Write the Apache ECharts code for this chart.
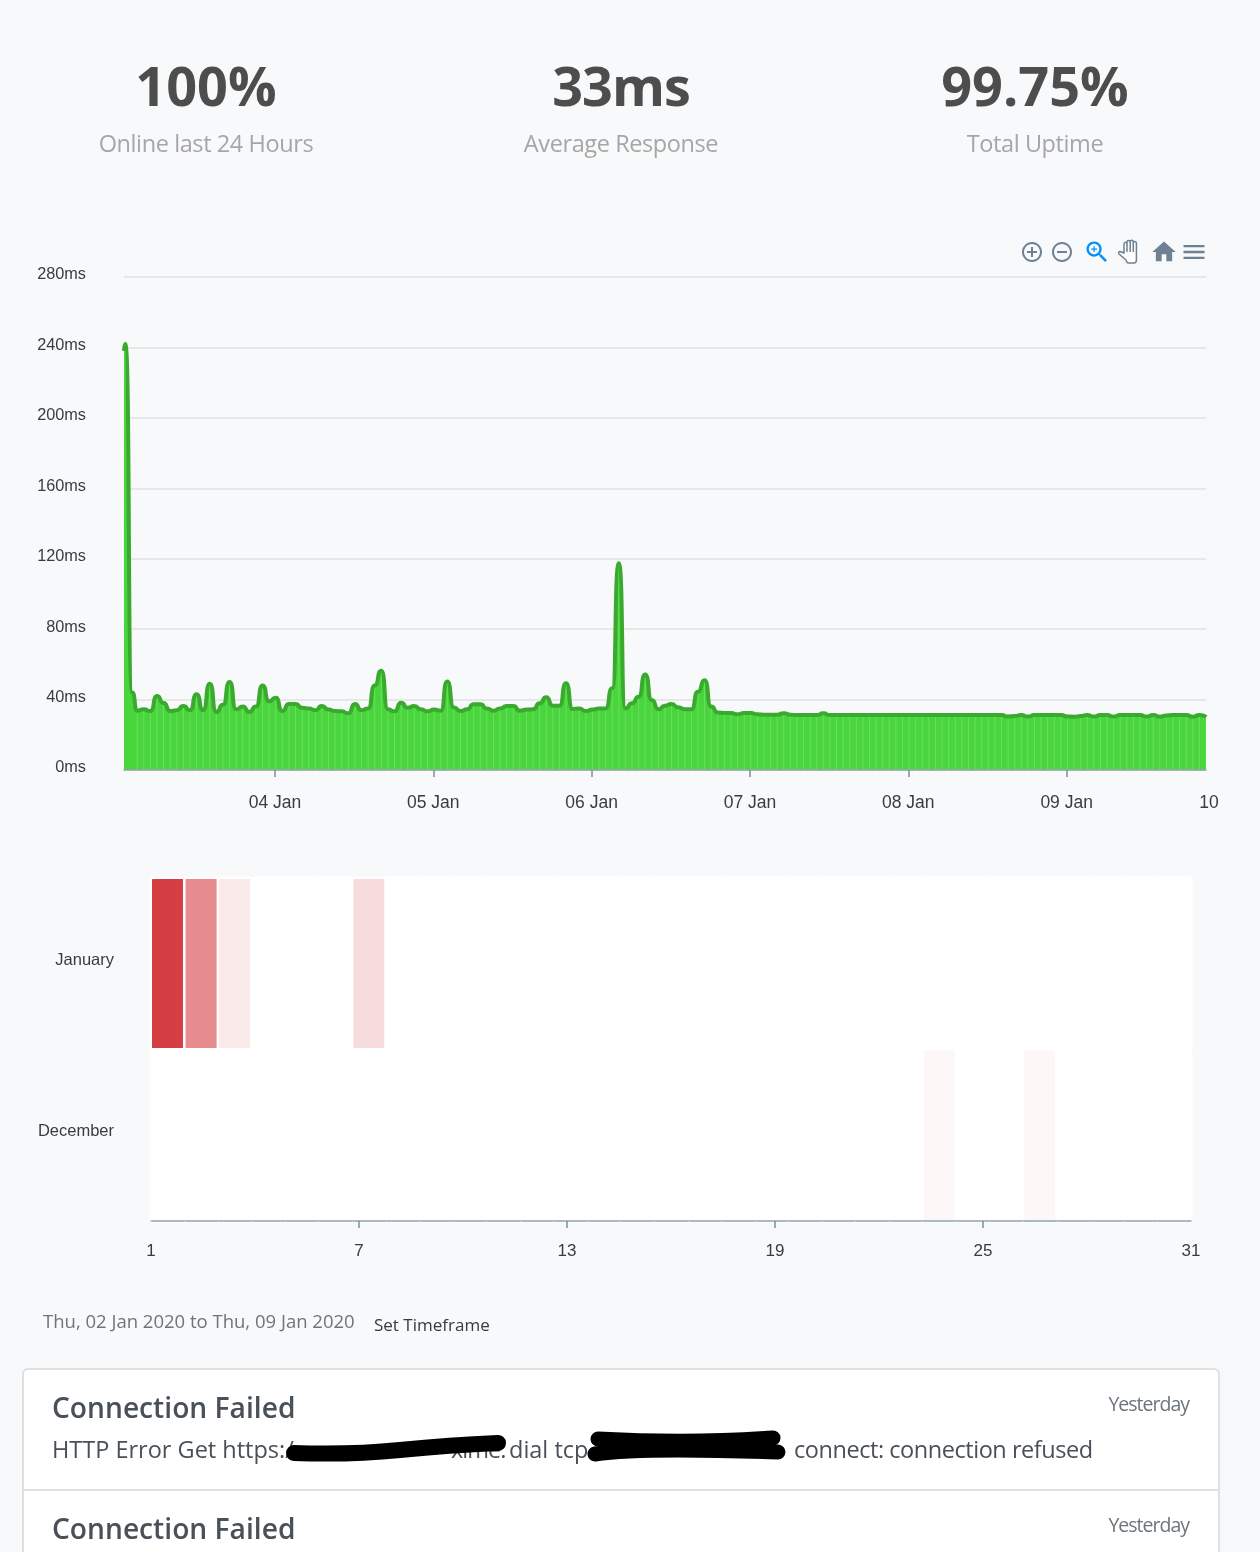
<!DOCTYPE html>
<html>
<head>
<meta charset="utf-8">
<title>Service status</title>
<script src="https://cdn.jsdelivr.net/npm/echarts@6/dist/echarts.min.js"></script>
<style>
  html, body { margin: 0; padding: 0; width: 1260px; height: 1552px; overflow: hidden; background: #f8f9fa; }
  body { font-family: "Open Sans", sans-serif; position: relative; }
  #statusChart { position: absolute; left: 0; top: 0; width: 1260px; height: 1552px; }
  .abs { position: absolute; white-space: nowrap; line-height: 1; }
  .stat { width: 420px; text-align: center; }
  .stat-value { font-size: 54px; font-weight: 700; color: #4d4d4d; top: 58px; }
  .stat-label { font-size: 23.5px; letter-spacing: -0.4px; color: #a6a6a6; top: 132px; }
  .card { position: absolute; left: 22px; width: 1194px; background: #fff; border: 2px solid #dfe0e1; box-sizing: content-box; }
  .card-title { font-size: 28.2px; font-weight: 600; color: #495057; left: 52px; }
  .card-time { font-size: 19.5px; letter-spacing: -1px; color: #6c757d; right: 71px; }
  .card-text { font-size: 23.5px; color: #495057; }
  svg.icon { position: absolute; }
</style>
</head>
<body>
<div class="card" style="top:1368px;height:119px;border-radius:6px 6px 0 0"></div>
<div class="card" style="top:1491px;height:80px;border-top:none"></div>

<div id="statusChart"></div>

<div class="abs stat stat-value" style="left:-4px">100%</div>
<div class="abs stat stat-label" style="left:-4px">Online last 24 Hours</div>
<div class="abs stat stat-value" style="left:411px;letter-spacing:-1px">33ms</div>
<div class="abs stat stat-label" style="left:411px">Average Response</div>
<div class="abs stat stat-value" style="left:825px">99.75%</div>
<div class="abs stat stat-label" style="left:825px">Total Uptime</div>

<svg class="icon" style="left:1020px;top:240px" width="24" height="24" viewBox="0 0 24 24" fill="#6e8192"><path d="M13 7h-2v4H7v2h4v4h2v-4h4v-2h-4V7zm-1-5C6.48 2 2 6.48 2 12s4.48 10 10 10 10-4.48 10-10S17.52 2 12 2zm0 18c-4.41 0-8-3.59-8-8s3.59-8 8-8 8 3.59 8 8-3.59 8-8 8z"/></svg>
<svg class="icon" style="left:1050px;top:240px" width="24" height="24" viewBox="0 0 24 24" fill="#6e8192"><path d="M7 11v2h10v-2H7zm5-9C6.48 2 2 6.48 2 12s4.48 10 10 10 10-4.48 10-10S17.52 2 12 2zm0 18c-4.41 0-8-3.59-8-8s3.59-8 8-8 8 3.59 8 8-3.59 8-8 8z"/></svg>
<svg class="icon" style="left:1083px;top:238px" width="28" height="28" viewBox="0 0 24 24" fill="#008ffb"><path d="M15.5 14h-.79l-.28-.27C15.41 12.59 16 11.11 16 9.5 16 5.91 13.09 3 9.5 3S3 5.91 3 9.5 5.91 16 9.5 16c1.61 0 3.09-.59 4.23-1.57l.27.28v.79l5 4.99L20.49 19l-4.99-5zm-6 0C7.01 14 5 11.99 5 9.5S7.01 5 9.5 5 14 7.01 14 9.5 11.99 14 9.5 14z"/><path d="M12 10h-2v2H9v-2H7V9h2V7h1v2h2v1z"/></svg>
<svg class="icon" style="left:1116px;top:239px" width="26" height="26" viewBox="0 0 26 26" fill="#fff" stroke="#6e8192" stroke-width="1.5" stroke-linejoin="round"><path d="M10 21 L3 15 Q2 13 4 12.5 L8 14 V5 Q8 3.2 9.5 3.2 Q11 3.2 11 5 V3 Q11 1.4 12.6 1.4 Q14.2 1.4 14.2 3 V2.6 Q14.2 1.2 15.8 1.2 Q17.3 1.2 17.3 2.8 V3.8 Q17.3 2.6 18.8 2.6 Q20.4 2.6 20.4 4.2 V21 Q20.4 24 18 24 H12 Q11 24 10 21 Z"/><path d="M11 5V13M14.2 3V13M17.3 3V13" fill="none"/></svg>
<svg class="icon" style="left:1150px;top:238px" width="28" height="28" viewBox="0 0 24 24" fill="#6e8192"><path d="M10 20v-6h4v6h5v-8h3L12 3 2 12h3v8z"/></svg>
<svg class="icon" style="left:1180px;top:238px" width="28" height="28" viewBox="0 0 24 24" fill="#6e8192"><path d="M3 18h18v-2H3v2zm0-5h18v-2H3v2zm0-7v2h18V6H3z"/></svg>

<div class="abs" style="left:43px;top:1312px;font-size:18.5px;color:#6c757d">Thu, 02 Jan 2020 to Thu, 09 Jan 2020</div>
<div class="abs" style="left:374px;top:1316px;font-size:17px;color:#343a40">Set Timeframe</div>

<div class="abs card-title" style="top:1393px">Connection Failed</div>
<div class="abs card-time" style="top:1394px">Yesterday</div>
<div class="abs card-text" style="left:52px;top:1438px">HTTP Error Get https:/</div>
<div class="abs card-text" style="left:451px;top:1438px;letter-spacing:-1px">xime:</div>
<div class="abs card-text" style="left:509px;top:1438px">dial tcp</div>
<div class="abs card-text" style="left:794px;top:1438px;letter-spacing:-0.45px">connect: connection refused</div>
<div class="abs card-title" style="top:1514px">Connection Failed</div>
<div class="abs card-time" style="top:1515px">Yesterday</div>

<svg class="icon" style="left:0;top:0;pointer-events:none" width="1260" height="1552" fill="none" stroke="#000" stroke-width="15" stroke-linecap="round">
  <path d="M294 1453 Q350 1455 400 1450 T498 1443" stroke-width="16"/>
  <path d="M598 1439 Q690 1444 773 1438"/>
  <path d="M595 1454 Q640 1447 778 1452"/>
</svg>

<script>
// first points of the series are not on the hourly grid, hours after axis start
var leadHours = [0, 0.2, 1.25];
var leadValues = [238, 242, 44];

// hourly response times in ms, from hour 2 to hour 164
var responseMs = [
  33.7, 34.5, 33.5, 42, 38, 33.5, 34, 36.3, 34, 43, 34, 49, 33, 37, 50, 34.5, 36, 33, 36, 48, 39, 41,
  33.5, 37.5, 37.5, 35.4, 35, 34, 36.3, 34.3, 33.5, 33.3, 32.2, 37.5, 34, 35, 48, 56.4, 34.5, 33.3,
  38.2, 35.4, 36.3, 34.5, 33.3, 34.3, 33.7, 50.3, 35.5, 33.5, 34.5, 37.3, 37.3, 35, 33.7, 35, 36.3,
  36.3, 33.7, 34.3, 34.5, 37.9, 41.3, 36.5, 36.5, 49.2, 34.6, 35, 33.5, 34.3, 35, 35, 46.4, 117.4, 35,
  37.9, 41.6, 54.3, 39.7, 34.5, 36.5, 37.5, 35.6, 34.5, 34.5, 44.5, 51, 36, 32.6, 32.4, 32.4, 31.6,
  32.4, 32.4, 31.6, 31.4, 31.4, 31.4, 32.3, 31.4, 31.2, 31.2, 31.2, 31.2, 32.2, 31.2, 31.2, 31.2,
  31.2, 31.2, 31.2, 31.2, 31.2, 31.2, 31.2, 31.2, 31.2, 31.2, 31.2, 31.2, 31.2, 31.2, 31.2, 31.2,
  31.2, 31.2, 31.2, 31.2, 31.2, 31.2, 31.2, 31.2, 30.4, 30.6, 31.2, 30.4, 31.2, 31.2, 31.2, 31.2, 31.3, 30.4,
  30.3, 30.6, 31.2, 30.4, 31.2, 31.2, 30.4, 31.2, 31.2, 31.2, 31.2, 30.4, 31.2, 30.3, 31, 31.2, 31.2,
  31.2, 30.3, 31.2, 30
];
var dayTicks = [new Date(2020, 0, 4), new Date(2020, 0, 5), new Date(2020, 0, 6), new Date(2020, 0, 7), new Date(2020, 0, 8), new Date(2020, 0, 9)];

var monthNames = ['December', 'January'];
var dayNames = ['1', '2', '3', '4', '5', '6', '7', '8', '9', '10', '11', '12', '13', '14', '15', '16', '17', '18', '19', '20', '21', '22', '23', '24', '25', '26', '27', '28', '29', '30', '31'];
var januaryFails = [100, 60, 11, 0, 0, 0, 18, 0, 0, 0, 0, 0, 0, 0, 0, 0, 0, 0, 0, 0, 0, 0, 0, 0, 0, 0, 0, 0, 0, 0, 0];
var decemberFails = [0, 0, 0, 0, 0, 0, 0, 0, 0, 0, 0, 0, 0, 0, 0, 0, 0, 0, 0, 0, 0, 0, 0, 4, 0, 0, 4, 0, 0, 0, 0];
var dayLabels = [1, 7, 13, 19, 25, 31];

var HOUR = 3600000;
var labelFont = 'Liberation Sans';
var dayTickTimes = dayTicks.map(function (d) { return d.getTime(); });
var axisStart = dayTickTimes[0] - 22.88 * HOUR;
var axisEnd = axisStart + 164 * HOUR;

var hourlyPoints = responseMs.map(function (v, i) {
  return [axisStart + (i + 2) * HOUR, v];
});
var allPoints = leadValues.map(function (v, i) {
  return [axisStart + leadHours[i] * HOUR, v];
}).concat(hourlyPoints);

var heatCells = [];
januaryFails.forEach(function (v, i) { heatCells.push([i, 1, v]); });
decemberFails.forEach(function (v, i) { heatCells.push([i, 0, v]); });

var option = {
  animation: false,
  backgroundColor: 'transparent',
  grid: [
    {left: 124, top: 277, width: 1082, height: 493},
    {left: 151, top: 878, width: 1040, height: 343, show: true, backgroundColor: '#fff', borderWidth: 0}
  ],
  xAxis: [
    {
      // value axis in ms, the time type does not take customValues
      type: 'value',
      gridIndex: 0,
      min: axisStart,
      max: axisEnd,
      z: 5,
      offset: 1,
      splitLine: {show: false},
      axisLine: {lineStyle: {color: '#90a4ae', width: 1.5}},
      axisTick: {show: true, length: 7, customValues: dayTickTimes, lineStyle: {color: '#78909c', width: 1.5}},
      axisLabel: {
        customValues: dayTickTimes.concat(axisEnd),
        margin: 23,
        color: '#373d3f',
        fontFamily: labelFont,
        fontSize: 17.5,
        alignMinLabel: 'center',
        alignMaxLabel: 'center',
        formatter: function (value) {
          if (value >= axisEnd) { return '{end|10}'; }
          return echarts.time.format(value, '{dd} {MMM}', false);
        },
        rich: {end: {padding: [0, 0, 0, 6], color: '#373d3f', fontFamily: labelFont, fontSize: 17.5}}
      }
    },
    {
      type: 'category',
      gridIndex: 1,
      data: dayNames,
      z: 5,
      axisLine: {lineStyle: {color: '#90a4ae', width: 1.5}},
      axisTick: {show: true, length: 1, alignWithLabel: false, lineStyle: {color: '#d3dadd'}},
      axisLabel: {show: false},
      splitLine: {show: false}
    },
    {
      type: 'value',
      gridIndex: 1,
      position: 'bottom',
      min: 1,
      max: 31,
      z: 5,
      axisLine: {show: false},
      axisTick: {show: true, length: 7, customValues: dayLabels.slice(1, -1), lineStyle: {color: '#78909c', width: 1.5}},
      axisLabel: {customValues: dayLabels, margin: 22, color: '#373d3f', fontFamily: labelFont, fontSize: 17},
      splitLine: {show: false}
    }
  ],
  yAxis: [
    {
      type: 'value',
      gridIndex: 0,
      min: 0,
      max: 280,
      interval: 40,
      axisLine: {show: false},
      axisTick: {show: false},
      splitLine: {lineStyle: {color: '#e0e0e0', width: 1.5}},
      // the empty second line lifts the label above its gridline
      axisLabel: {margin: 38, color: '#373d3f', fontFamily: labelFont, fontSize: 16.3, lineHeight: 4, formatter: '{value}ms\n '}
    },
    {
      type: 'category',
      gridIndex: 1,
      data: monthNames,
      axisLine: {show: false},
      axisTick: {show: false},
      splitLine: {show: false},
      axisLabel: {margin: 37, color: '#373d3f', fontFamily: labelFont, fontSize: 16.5, lineHeight: 7, formatter: '{value}\n '}
    }
  ],
  visualMap: {
    show: false,
    seriesIndex: 3,
    dimension: 2,
    min: 0,
    max: 100,
    inRange: {color: ['#ffffff', '#d53f44']}
  },
  series: [
    {
      type: 'line',
      name: 'fill',
      xAxisIndex: 0,
      yAxisIndex: 0,
      data: allPoints,
      smooth: 0.7,
      smoothMonotone: 'x',
      showSymbol: false,
      lineStyle: {width: 0},
      areaStyle: {color: '#48d63c', opacity: 1},
      z: 2
    },
    {
      // thin light seams of the area at every sample
      type: 'bar',
      name: 'seams',
      xAxisIndex: 0,
      yAxisIndex: 0,
      data: hourlyPoints,
      barWidth: 1,
      itemStyle: {color: 'rgba(255,255,255,0.2)'},
      z: 3
    },
    {
      type: 'line',
      name: 'Response',
      xAxisIndex: 0,
      yAxisIndex: 0,
      data: allPoints,
      smooth: 0.7,
      smoothMonotone: 'x',
      showSymbol: false,
      lineStyle: {color: '#3aaa2e', width: 4},
      z: 4
    },
    {
      type: 'heatmap',
      name: 'Failures',
      xAxisIndex: 1,
      yAxisIndex: 1,
      data: heatCells,
      itemStyle: {borderColor: '#fff', borderWidth: 2.5, borderRadius: 2},
      emphasis: {disabled: true}
    }
  ]
};

echarts.init(document.getElementById('statusChart'), null, {renderer: 'canvas'}).setOption(option);
</script>
</body>
</html>
